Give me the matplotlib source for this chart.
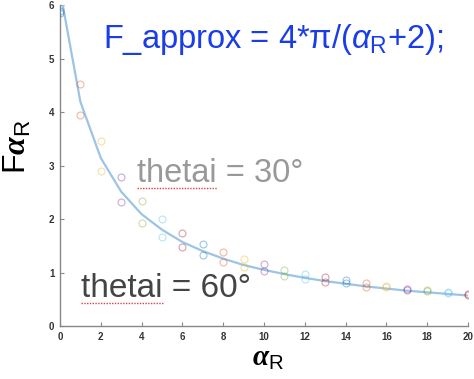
import numpy as np
import matplotlib
matplotlib.use("Agg")
import matplotlib.pyplot as plt

plt.rcParams['font.family'] = ['Liberation Sans', 'DejaVu Sans']
plt.rcParams['mathtext.fontset'] = 'custom'
plt.rcParams['mathtext.rm'] = 'Liberation Sans'
plt.rcParams['mathtext.it'] = 'Liberation Sans:italic'
plt.rcParams['mathtext.bf'] = 'Liberation Serif:bold:italic'

# alpha_R values
alpha_r = list(range(0, 21))
# F_approx curve, read at each integer alpha_R
f_approx = [6.28, 4.19, 3.14, 2.51, 2.09, 1.80, 1.57, 1.40, 1.26, 1.14, 1.05,
            0.97, 0.90, 0.84, 0.79, 0.74, 0.70, 0.66, 0.63, 0.60, 0.57]
# measured points, thetai = 30 deg (upper) and 60 deg (lower)
f_30 = [5.89, 4.52, 3.46, 2.79, 2.34, 2.00, 1.74, 1.54, 1.39, 1.25, 1.15,
        1.05, 0.97, 0.92, 0.86, 0.80, 0.75, 0.70, 0.67, 0.63, 0.60]
f_60 = [5.85, 3.94, 2.90, 2.31, 1.93, 1.67, 1.47, 1.32, 1.20, 1.10, 1.03,
        0.94, 0.88, 0.82, 0.80, 0.73, 0.73, 0.67, 0.65, 0.62, 0.58]

# matlab default colour order
cols = ['#0072BD', '#D95319', '#EDB120', '#7E2F8E', '#77AC30', '#4DBEEE', '#A2142F']

fig = plt.figure(figsize=(4.74, 3.79), dpi=100)
ax = fig.add_axes([0.1266, 0.1398, 0.8608, 0.847])

ax.plot(alpha_r, f_approx, color='#9cc4e4', lw=1.6, zorder=2)
for i, a in enumerate(alpha_r):
    c = cols[i % 7]
    ax.plot([a, a], [f_30[i], f_60[i]], ls='none', marker='o', ms=5, mfc='none',
            mec=c, mew=0.8, alpha=0.4, zorder=3)

ax.set_xlim(0, 20)
ax.set_ylim(0, 6)
ax.set_xticks(range(0, 21, 2))
ax.set_yticks(range(0, 7))
for s in ['top', 'right']:
    ax.spines[s].set_visible(False)
for s in ['left', 'bottom']:
    ax.spines[s].set_color('#888888')
    ax.spines[s].set_linewidth(1.0)
ax.tick_params(direction='in', length=3, width=0.8, color='#888888',
               labelsize=7, labelcolor='#333333', pad=4)
for lab in ax.get_xticklabels() + ax.get_yticklabels():
    lab.set_fontweight('bold')

ax.set_xlabel(r'$\mathbf{\alpha}_{\mathrm{R}}$', fontsize=21)
ax.xaxis.set_label_coords(0.51, -0.121)
ax.xaxis.label.set_va('baseline')
ax.set_ylabel(r'$\mathrm{F}\mathbf{\alpha}_{\mathrm{R}}$', fontsize=23)
ax.yaxis.set_label_coords(-0.066, 0.56)

ax.text(2.1, 5.2, r'F_approx = 4*π/($\alpha_{\mathrm{R}}$+2);', color='#1a3de8',
        fontsize=23.5, va='baseline', ha='left')

def label_with_squiggle(x, y, txt, color, size):
    t = ax.text(x, y, txt, color=color, fontsize=size, va='baseline', ha='left')
    w = ax.text(x, y, 'thetai', fontsize=size, va='baseline', ha='left', alpha=0)
    fig.canvas.draw()
    bb = w.get_window_extent().transformed(ax.transData.inverted())
    ax.plot([bb.x0, bb.x1], [y - 0.12, y - 0.12], color='#e04040', ls=(0, (1, 1)),
            lw=1.0, zorder=4)
    w.remove()
    return t

label_with_squiggle(3.77, 2.70, 'thetai = 30°', '#999999', 23.5)
label_with_squiggle(1.05, 0.55, 'thetai = 60°', '#444444', 24)

fig.savefig('out.png', dpi=100)
